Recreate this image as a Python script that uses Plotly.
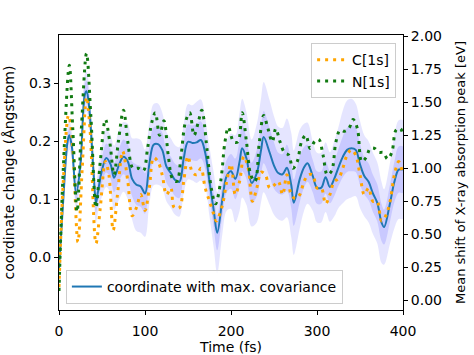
import plotly.graph_objects as go

# ---- data ----
t_coord = [0,5,10,12,15,20,25,30,32,35,40,43,45,50,55,60,64,70,75,80,85,90,95,100,105,110,115,120,125,130,
           135,140,145,150,155,160,165,170,175,180,184,190,195,200,205,210,213,218,224,230,235,238,245,250,255,260,265,270,273,280,
           285,289,295,300,305,310,315,320,325,330,335,340,345,350,355,360,365,370,375,378,385,390,395,400]
coord = [-0.02,0.10,0.20,0.21,0.19,0.11,0.16,0.28,0.286,0.26,0.15,0.094,0.11,0.15,0.171,0.16,0.137,0.16,0.173,0.165,
         0.135,0.125,0.122,0.11,0.16,0.194,0.195,0.185,0.156,0.145,0.133,0.13,0.17,0.199,0.197,0.198,0.202,0.18,0.13,0.08,
         0.042,0.10,0.14,0.148,0.135,0.165,0.188,0.17,0.128,0.145,0.185,0.207,0.18,0.158,0.145,0.143,0.154,0.125,0.094,0.135,
         0.155,0.162,0.14,0.12,0.12,0.138,0.121,0.135,0.155,0.173,0.185,0.188,0.185,0.16,0.14,0.13,0.11,0.094,0.06,0.052,
         0.094,0.13,0.151,0.151]
coord_outer = [0.01,0.02,0.025,0.025,0.025,
               0.025,0.03,0.035,0.035,0.035,0.035,0.035,0.035,
               0.045,0.05,0.05,0.055,0.06,0.06,0.065,0.07,0.08,0.08,0.075,
               0.07,0.07,0.07,0.065,0.06,0.06,0.06,0.06,0.06,0.065,0.065,0.07,0.07,0.06,0.06,0.065,
               0.07,0.06,0.06,0.065,0.075,0.085,0.085,0.08,0.075,0.085,0.09,0.095,0.09,0.085,0.08,0.08,0.085,0.09,0.09,
               0.085,0.075,0.07,0.06,0.06,0.06,0.06,0.06,0.065,0.07,0.08,0.085,0.085,0.08,0.075,0.07,0.07,0.07,0.07,0.07,0.065,
               0.07,0.08,0.085,0.085]
coord_inner = [0.005,0.01,0.012,0.012,0.012,
               0.012,0.015,0.018,0.018,0.018,0.018,0.018,0.018,
               0.022,0.025,0.025,0.025,0.028,0.03,0.03,0.03,0.035,0.035,0.035,
               0.03,0.03,0.03,0.03,0.028,0.028,0.028,0.028,0.028,0.03,0.03,0.032,0.032,0.028,0.028,0.03,
               0.03,0.028,0.028,0.03,0.035,0.04,0.04,0.035,0.035,0.04,0.042,0.045,0.042,0.04,0.035,0.035,0.04,0.04,0.04,
               0.04,0.035,0.032,0.028,0.028,0.028,0.028,0.028,0.03,0.032,0.035,0.038,0.04,0.038,0.035,0.032,0.032,0.032,0.032,0.032,0.03,
               0.032,0.035,0.04,0.04]

t_c = [0,5,11,15,22,27,32,36,43,48,54,58,63,68,74,80,85,90,95,100,105,110,115,120,125,130,134,140,145,150,
       155,160,165,170,175,180,183,190,195,200,205,210,215,220,225,230,235,240,245,250,255,260,265,270,275,280,285,290,295,300,
       305,310,315,320,325,330,335,340,345,350,355,360,365,370,375,380,385,390,395,400]
c1s = [0.1,0.9,1.40,1.25,0.44,1.0,1.54,1.3,0.43,0.7,1.05,0.95,0.53,0.8,1.13,0.9,0.64,0.7,0.8,0.68,
       0.85,1.08,1.05,0.95,0.8,0.85,0.7,0.7,0.9,1.09,0.97,0.95,1.0,0.85,0.75,0.65,0.6,0.72,0.9,1.03,
       0.8,0.9,1.09,1.0,0.75,0.85,0.97,0.95,0.85,0.87,0.9,0.8,0.95,0.8,0.77,0.8,0.9,0.95,0.95,0.85,
       0.85,0.73,0.8,0.9,0.92,1.0,1.1,1.14,1.1,0.95,0.8,0.85,0.75,0.75,0.6,0.64,0.75,0.95,1.05,0.95]

t_n = [0,5,12,16,21,26,32,37,43,48,54,59,64,69,75,80,86,92,98,103,108,112,117,122,127,132,137,142,147,152,
       157,162,166,172,177,182,188,193,197,203,208,213,218,223,228,233,238,243,248,252,257,262,267,272,277,282,287,292,297,302,
       307,312,317,322,327,332,337,342,347,352,357,362,367,372,377,382,387,392,397,400]
n1s = [0.07,1.0,1.78,1.3,0.67,1.3,1.87,1.4,0.7,1.05,1.37,1.2,0.95,1.2,1.44,1.2,1.0,1.0,0.98,1.15,
       1.35,1.42,1.25,1.36,1.1,0.92,0.9,1.1,1.35,1.42,1.25,1.35,1.44,1.15,0.85,0.73,0.9,1.2,1.31,1.2,
       1.2,1.42,1.2,0.95,0.9,1.2,1.40,1.3,1.2,1.3,1.2,1.12,1.1,1.0,1.05,1.2,1.25,1.15,1.2,1.22,
       1.1,0.95,0.98,1.2,1.29,1.28,1.3,1.37,1.3,1.05,1.08,1.15,1.15,1.12,1.12,1.07,1.12,1.29,1.3,1.25]

x_ticks = [0, 100, 200, 300, 400]
y_left_ticks = [0.0, 0.1, 0.2, 0.3]
y_right_ticks = [0.0, 0.25, 0.5, 0.75, 1.0, 1.25, 1.5, 1.75, 2.0]

FONT = "DejaVu Sans"

fig = go.Figure()

def band(width, color):
    xs = t_coord + t_coord[::-1]
    ys = [c + w for c, w in zip(coord, width)] + [c - w for c, w in zip(coord[::-1], width[::-1])]
    return go.Scatter(x=xs, y=ys, fill="toself", fillcolor=color, line=dict(width=0),
                      mode="lines", line_shape="spline", showlegend=False, hoverinfo="skip",
                      xaxis="x", yaxis="y")

fig.add_trace(band(coord_outer, "rgba(0,0,255,0.10)"))
fig.add_trace(band(coord_inner, "rgba(0,0,255,0.12)"))
fig.add_trace(go.Scatter(x=t_coord, y=coord, mode="lines", line=dict(color="#1f77b4", width=2),
                         line_shape="spline", name="coordinate with max. covariance",
                         legend="legend", xaxis="x", yaxis="y"))
fig.add_trace(go.Scatter(x=t_c, y=c1s, mode="lines", line=dict(color="#FFA500", width=3, dash="3px,5px"),
                         line_shape="spline", name="C[1s]", legend="legend2", xaxis="x", yaxis="y2"))
fig.add_trace(go.Scatter(x=t_n, y=n1s, mode="lines", line=dict(color="#117a11", width=3, dash="3px,5px"),
                         line_shape="spline", name="N[1s]", legend="legend2", xaxis="x", yaxis="y2"))

axis_common = dict(showline=True, linecolor="black", linewidth=1, ticks="outside", ticklen=4,
                   tickcolor="black", showgrid=False, zeroline=False, automargin=False,
                   tickfont=dict(family=FONT, size=14, color="black"))

fig.update_layout(
    width=474, height=355,
    margin=dict(l=59, r=71, t=35, b=45),
    paper_bgcolor="white", plot_bgcolor="white",
    font=dict(family=FONT, size=14, color="black"),
    xaxis=dict(range=[0, 400], tickvals=x_ticks, mirror=True, ticklabelstandoff=4,
               title=dict(text="Time (fs)", font=dict(family=FONT, size=14), standoff=0),
               **axis_common),
    yaxis=dict(range=[-0.091, 0.383], tickvals=y_left_ticks, tickformat=".1f",
               title=dict(text="coordinate change (Ångstrom)", font=dict(family=FONT, size=14), standoff=11),
               **axis_common),
    yaxis2=dict(range=[-0.075, 2.01], tickvals=y_right_ticks, tickformat=".2f",
                overlaying="y", side="right",
                title=dict(text="Mean shift of X-ray absorption peak [eV]", font=dict(family=FONT, size=13), standoff=14),
                **axis_common),
    legend=dict(x=0.02, y=0.022, xanchor="left", yanchor="bottom",
                bgcolor="rgba(255,255,255,0.8)", bordercolor="#cccccc", borderwidth=1,
                font=dict(family=FONT, size=14)),
    legend2=dict(x=0.98, y=0.97, xanchor="right", yanchor="top",
                 bgcolor="rgba(255,255,255,0.8)", bordercolor="#cccccc", borderwidth=1,
                 font=dict(family=FONT, size=14)),
    showlegend=True,
)

fig.write_html("out.html", config={"displayModeBar": False},
               post_script="document.body.style.margin='0px';")
